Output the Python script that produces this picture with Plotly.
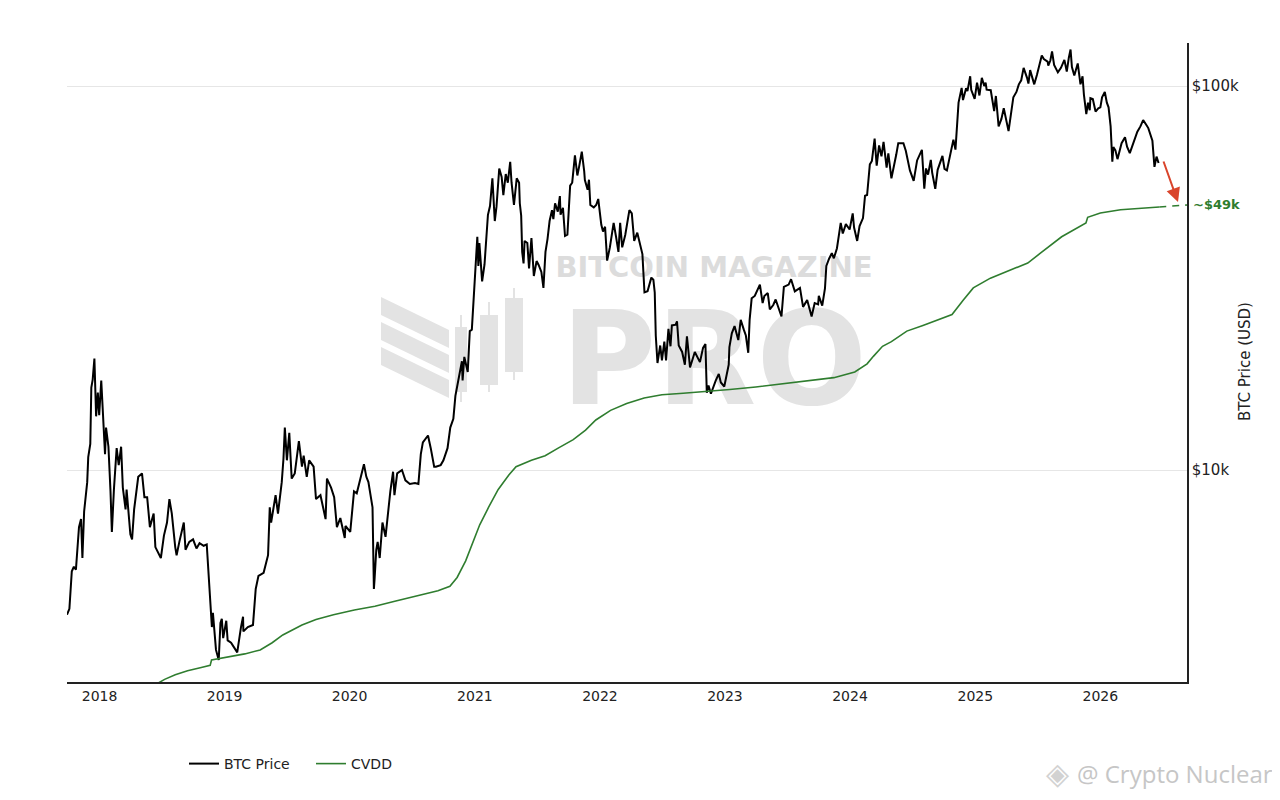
import numpy as np
import plotly.graph_objects as go

# BTC price (USD)
btc_dates = [
    "2017-09-28", "2017-10-05", "2017-10-12", "2017-10-18", "2017-10-24", "2017-11-02", "2017-11-08",
    "2017-11-12", "2017-11-17", "2017-11-26", "2017-11-29", "2017-12-05", "2017-12-08", "2017-12-12",
    "2017-12-17", "2017-12-22", "2017-12-27", "2017-12-31", "2018-01-06", "2018-01-10", "2018-01-17",
    "2018-01-20", "2018-01-27", "2018-02-02", "2018-02-06", "2018-02-12", "2018-02-20", "2018-02-26",
    "2018-03-05", "2018-03-10", "2018-03-18", "2018-03-21", "2018-04-01", "2018-04-06", "2018-04-12",
    "2018-04-24", "2018-05-05", "2018-05-12", "2018-05-20", "2018-05-28", "2018-06-08", "2018-06-13",
    "2018-06-24", "2018-06-29", "2018-07-08", "2018-07-17", "2018-07-24", "2018-07-31", "2018-08-10",
    "2018-08-14", "2018-08-22", "2018-09-04", "2018-09-09", "2018-09-20", "2018-10-01", "2018-10-11",
    "2018-10-20", "2018-11-01", "2018-11-10", "2018-11-14", "2018-11-19", "2018-11-22", "2018-11-25",
    "2018-11-28", "2018-12-07", "2018-12-15", "2018-12-20", "2018-12-24", "2018-12-28", "2019-01-06",
    "2019-01-10", "2019-01-20", "2019-01-28", "2019-02-07", "2019-02-18", "2019-02-24", "2019-02-25",
    "2019-03-10", "2019-03-25", "2019-04-02", "2019-04-10", "2019-04-25", "2019-05-08", "2019-05-13",
    "2019-05-17", "2019-05-30", "2019-06-06", "2019-06-17", "2019-06-22", "2019-06-26", "2019-07-02",
    "2019-07-09", "2019-07-16", "2019-07-25", "2019-08-06", "2019-08-15", "2019-08-20", "2019-08-29",
    "2019-09-05", "2019-09-18", "2019-09-25", "2019-10-08", "2019-10-23", "2019-10-27", "2019-11-08",
    "2019-11-17", "2019-11-25", "2019-12-05", "2019-12-18", "2019-12-20", "2020-01-03", "2020-01-14",
    "2020-01-22", "2020-02-01", "2020-02-12", "2020-02-19", "2020-02-25", "2020-03-08", "2020-03-12",
    "2020-03-14", "2020-03-19", "2020-03-23", "2020-03-29", "2020-04-06", "2020-04-15", "2020-04-29",
    "2020-05-07", "2020-05-11", "2020-05-19", "2020-06-02", "2020-06-12", "2020-06-25", "2020-07-10",
    "2020-07-20", "2020-07-27", "2020-08-02", "2020-08-17", "2020-08-25", "2020-09-04", "2020-09-09",
    "2020-09-23", "2020-10-01", "2020-10-13", "2020-10-21", "2020-10-30", "2020-11-05", "2020-11-18",
    "2020-11-24", "2020-11-26", "2020-12-01", "2020-12-11", "2020-12-17", "2020-12-23", "2020-12-27",
    "2021-01-02", "2021-01-08", "2021-01-11", "2021-01-14", "2021-01-22", "2021-01-29", "2021-02-08",
    "2021-02-14", "2021-02-21", "2021-02-28", "2021-03-05", "2021-03-13", "2021-03-20", "2021-03-25",
    "2021-04-01", "2021-04-07", "2021-04-14", "2021-04-18", "2021-04-25", "2021-05-03", "2021-05-10",
    "2021-05-12", "2021-05-16", "2021-05-19", "2021-05-23", "2021-05-26", "2021-06-03", "2021-06-08",
    "2021-06-15", "2021-06-22", "2021-06-30", "2021-07-06", "2021-07-14", "2021-07-20", "2021-07-26",
    "2021-08-01", "2021-08-07", "2021-08-14", "2021-08-18", "2021-08-23", "2021-08-31", "2021-09-06",
    "2021-09-08", "2021-09-15", "2021-09-21", "2021-09-28", "2021-10-06", "2021-10-12", "2021-10-20",
    "2021-10-27", "2021-11-01", "2021-11-09", "2021-11-16", "2021-11-18", "2021-11-26", "2021-11-30",
    "2021-12-04", "2021-12-14", "2021-12-21", "2021-12-27", "2022-01-05", "2022-01-10", "2022-01-16",
    "2022-01-22", "2022-01-30", "2022-02-10", "2022-02-17", "2022-02-24", "2022-03-01", "2022-03-07",
    "2022-03-16", "2022-03-28", "2022-04-04", "2022-04-11", "2022-04-20", "2022-04-30", "2022-05-05",
    "2022-05-11", "2022-05-20", "2022-05-31", "2022-06-06", "2022-06-10", "2022-06-13", "2022-06-18",
    "2022-06-26", "2022-07-01", "2022-07-08", "2022-07-13", "2022-07-20", "2022-07-26", "2022-07-30",
    "2022-08-10", "2022-08-14", "2022-08-19", "2022-08-29", "2022-09-06", "2022-09-12", "2022-09-21",
    "2022-10-05", "2022-10-20", "2022-10-29", "2022-11-05", "2022-11-09", "2022-11-14", "2022-11-21",
    "2022-12-05", "2022-12-14", "2022-12-20", "2022-12-30", "2023-01-12", "2023-01-14", "2023-01-21",
    "2023-01-29", "2023-02-09", "2023-02-16", "2023-02-25", "2023-03-03", "2023-03-10", "2023-03-14",
    "2023-03-20", "2023-03-29", "2023-04-13", "2023-04-21", "2023-04-26", "2023-05-06", "2023-05-12",
    "2023-05-22", "2023-05-29", "2023-06-10", "2023-06-15", "2023-06-22", "2023-07-06", "2023-07-13",
    "2023-07-24", "2023-08-08", "2023-08-17", "2023-08-29", "2023-09-11", "2023-09-20", "2023-09-30",
    "2023-10-02", "2023-10-12", "2023-10-20", "2023-10-24", "2023-11-01", "2023-11-09", "2023-11-15",
    "2023-11-24", "2023-12-05", "2023-12-11", "2023-12-20", "2023-12-31", "2024-01-09", "2024-01-13",
    "2024-01-22", "2024-01-29", "2024-02-08", "2024-02-14", "2024-02-20", "2024-02-28", "2024-03-05",
    "2024-03-13", "2024-03-19", "2024-03-26", "2024-04-02", "2024-04-08", "2024-04-17", "2024-04-22",
    "2024-05-01", "2024-05-08", "2024-05-15", "2024-05-21", "2024-06-05", "2024-06-12", "2024-06-24",
    "2024-07-05", "2024-07-15", "2024-07-29", "2024-08-05", "2024-08-10", "2024-08-16", "2024-08-24",
    "2024-08-28", "2024-09-06", "2024-09-13", "2024-09-27", "2024-10-03", "2024-10-10", "2024-10-21",
    "2024-10-29", "2024-11-04", "2024-11-11", "2024-11-13", "2024-11-22", "2024-11-26", "2024-12-05",
    "2024-12-09", "2024-12-17", "2024-12-20", "2024-12-30", "2025-01-06", "2025-01-13", "2025-01-20",
    "2025-01-27", "2025-01-31", "2025-02-03", "2025-02-15", "2025-02-25", "2025-03-02", "2025-03-10",
    "2025-03-18", "2025-03-25", "2025-03-31", "2025-04-08", "2025-04-15", "2025-04-22", "2025-05-01",
    "2025-05-08", "2025-05-15", "2025-05-22", "2025-06-01", "2025-06-05", "2025-06-10", "2025-06-17",
    "2025-06-22", "2025-06-30", "2025-07-03", "2025-07-14", "2025-07-20", "2025-07-31", "2025-08-02",
    "2025-08-08", "2025-08-13", "2025-08-19", "2025-08-30", "2025-09-08", "2025-09-18", "2025-09-25",
    "2025-10-01", "2025-10-06", "2025-10-10", "2025-10-17", "2025-10-27", "2025-11-04", "2025-11-10",
    "2025-11-14", "2025-11-21", "2025-11-26", "2025-12-01", "2025-12-03", "2025-12-10", "2025-12-18",
    "2025-12-26", "2026-01-01", "2026-01-06", "2026-01-14", "2026-01-20", "2026-01-25", "2026-01-31",
    "2026-02-05", "2026-02-08", "2026-02-14", "2026-02-20", "2026-03-04", "2026-03-14", "2026-03-20",
    "2026-03-28", "2026-04-08", "2026-04-19", "2026-04-28", "2026-05-06", "2026-05-14", "2026-05-21",
    "2026-06-02", "2026-06-08", "2026-06-14", "2026-06-20",
]
btc_price = [
    4200, 4350, 5450, 5600, 5500, 7100, 7450,
    5900, 7800, 9300, 10800, 11700, 16400, 17200,
    19500, 13800, 15900, 13900, 17100, 14600, 11000,
    12900, 11500, 8800, 6900, 8900, 11400, 10300,
    11500, 9000, 7900, 8900, 6800, 6600, 7900,
    9600, 9800, 8500, 8500, 7100, 7700, 6300,
    6000, 5900, 6750, 7300, 8400, 7700, 6300,
    6000, 6500, 7300, 6200, 6500, 6600, 6250,
    6450, 6350, 6400, 5700, 4700, 4400, 3900,
    4250, 3400, 3200, 4000, 4100, 3650, 4050,
    3600, 3550, 3450, 3350, 3900, 4150, 3800,
    3900, 3950, 4900, 5300, 5400, 6000, 8000,
    7300, 8600, 7700, 9300, 10700, 12900, 10600,
    12500, 9500, 9800, 11900, 10200, 10900, 9600,
    10600, 10200, 8400, 8600, 7450, 9500, 9000,
    8500, 7100, 7500, 6650, 7150, 6900, 8800,
    8700, 9400, 10350, 9600, 9300, 8000, 4900,
    5200, 6200, 6500, 5900, 7300, 6700, 8800,
    9900, 8600, 9800, 10000, 9400, 9200, 9250,
    9200, 11000, 11800, 12300, 11400, 10200, 10200,
    10300, 10600, 11400, 12900, 13600, 15600, 18000,
    19200, 17100, 19700, 18000, 23000, 23200, 26500,
    32000, 40500, 34000, 39000, 31000, 34300, 46200,
    48700, 57500, 44500, 48500, 61000, 58000, 52000,
    59000, 56000, 63500, 56000, 49000, 57500, 56000,
    49500, 46000, 37000, 34500, 39500, 39000, 33500,
    40200, 32000, 35000, 34200, 32800, 29800, 37000,
    40000, 44500, 47500, 45000, 49500, 47100, 51700,
    46200, 48200, 40700, 41000, 55000, 56000, 66000,
    58500, 61500, 67500, 60000, 56900, 53700, 57000,
    49000, 48300, 49000, 50800, 43500, 41800, 43000,
    35100, 38000, 44000, 40500, 37000, 44000, 38000,
    41000, 47500, 46600, 39500, 41500, 37700, 36500,
    29000, 29200, 31700, 31300, 29000, 22400, 19000,
    21100, 19300, 21600, 19300, 23300, 21000, 23800,
    23900, 24400, 21100, 20300, 18800, 22300, 18500,
    20300, 19100, 20800, 21300, 15900, 16600, 15800,
    17100, 17800, 16900, 16500, 18800, 20900, 22700,
    23700, 21800, 24600, 23200, 22400, 20200, 24600,
    28000, 28400, 30400, 27200, 28400, 28900, 26200,
    26900, 27800, 25800, 25100, 30000, 30400, 31400,
    29200, 29800, 26600, 27700, 25100, 27200, 27000,
    28400, 26800, 29700, 34000, 35500, 36700, 35600,
    37800, 44000, 41300, 43700, 42300, 46600, 42800,
    39500, 43200, 45300, 51800, 52000, 62500, 63800,
    73000, 62000, 70000, 65600, 71500, 61300, 66800,
    57500, 61200, 66200, 71000, 71000, 67800, 60300,
    56600, 64000, 68200, 54000, 61000, 58800, 64200,
    59500, 54000, 60500, 65800, 60800, 60300, 67400,
    72500, 68300, 88700, 90500, 98900, 91900, 98700,
    97000, 106000, 97700, 92600, 102000, 94500, 105000,
    100000, 102000, 97800, 97500, 86000, 94200, 78500,
    82000, 87500, 82500, 76300, 84500, 93500, 96500,
    101000, 103500, 111500, 105000, 101500, 110000, 104500,
    101000, 107000, 109500, 120000, 117500, 115800, 113000,
    116500, 123000, 113500, 108500, 111500, 117000, 109000,
    118500, 124500, 112000, 106500, 114500, 101000, 106000,
    95000, 84500, 90500, 86500, 93000, 92500, 85800,
    87500, 88000, 93500, 96500, 90500, 88000, 78500,
    63500, 69300, 68000, 64500, 71000, 73600, 69500,
    66900, 71500, 76000, 78500, 81500, 79500, 77700,
    72000, 61600, 65500, 63000,
]

# CVDD (USD)
cvdd_dates = [
    "2018-05-25", "2018-07-10", "2018-08-10", "2018-09-15", "2018-10-25", "2018-11-20", "2018-11-24",
    "2019-01-15", "2019-03-01", "2019-04-15", "2019-05-20", "2019-06-20", "2019-07-20", "2019-08-15",
    "2019-09-25", "2019-11-15", "2020-01-15", "2020-03-15", "2020-05-15", "2020-07-15", "2020-09-15",
    "2020-10-20", "2020-11-10", "2020-12-05", "2020-12-25", "2021-01-15", "2021-02-10", "2021-03-10",
    "2021-04-10", "2021-05-01", "2021-06-15", "2021-07-25", "2021-09-01", "2021-10-15", "2021-11-20",
    "2021-12-20", "2022-02-01", "2022-03-20", "2022-05-10", "2022-07-01", "2022-09-01", "2022-11-10",
    "2023-01-15", "2023-04-01", "2023-07-01", "2023-09-15", "2023-11-15", "2024-01-15", "2024-02-20",
    "2024-03-10", "2024-04-05", "2024-05-01", "2024-06-15", "2024-08-01", "2024-09-15", "2024-10-25",
    "2024-11-27", "2024-12-26", "2025-02-14", "2025-06-03", "2025-07-10", "2025-08-17", "2025-09-10",
    "2025-11-20", "2025-11-25", "2026-01-01", "2026-03-01", "2026-06-22",
]
cvdd_price = [
    2700, 2850, 2930, 3000, 3060, 3100, 3200,
    3260, 3320, 3400, 3550, 3720, 3850, 3950,
    4080, 4200, 4320, 4420, 4560, 4700, 4850,
    4980, 5250, 5800, 6450, 7200, 8000, 8900,
    9700, 10200, 10600, 10900, 11400, 12000, 12700,
    13500, 14300, 14900, 15400, 15700, 15850, 16000,
    16200, 16450, 16800, 17100, 17400, 18000, 18900,
    19800, 21000, 21600, 23000, 23800, 24600, 25400,
    27700, 29800, 31600, 34600, 36700, 39000, 40500,
    44000, 45500, 46700, 47600, 48400,
]

# dashed CVDD projection to the target level
cvdd_target = 49000
cvdd_proj_dates = ["2026-06-22", "2026-09-11"]
cvdd_proj_price = [48400, cvdd_target]

year_ticks = ["2018", "2019", "2020", "2021", "2022", "2023", "2024", "2025", "2026"]
price_ticks = [10000, 100000]
price_labels = ["$10k", "$100k"]

GREEN = "#2f7d2f"
FONT = "DejaVu Sans"

# the page body adds an 8px margin, so the figure is a bit smaller than the window
W, H, OFF = 1272, 792, 8
# plot box in screenshot pixels (used for the decorations)
L, R, T, B = 67, 1187, 43, 682


def px(x):
    return (x - L) / (R - L)


def py(y):
    return (B - y) / (B - T)


fig = go.Figure()
fig.add_trace(go.Scatter(x=btc_dates, y=btc_price, mode="lines", name="BTC Price",
                         line=dict(color="#000000", width=2)))
fig.add_trace(go.Scatter(x=cvdd_dates, y=cvdd_price, mode="lines", name="CVDD",
                         line=dict(color=GREEN, width=1.6)))
fig.add_trace(go.Scatter(x=cvdd_proj_dates, y=cvdd_proj_price, mode="lines", showlegend=False,
                         line=dict(color=GREEN, width=1.6, dash="7px,6px")))

# watermark (behind the lines)
wm = "#e3e3e3"
shapes = []
for i in range(3):
    d = 25 * i
    path = "M {} {} L {} {} L {} {} L {} {} Z".format(
        px(381), py(297 + d), px(449), py(330 + d), px(449), py(348 + d), px(381), py(315 + d))
    shapes.append(dict(type="path", path=path, xref="paper", yref="paper", layer="below",
                       fillcolor=wm, line=dict(width=0)))
# candles: body x0, x1, y0, y1, wick top, wick bottom
for x0, x1, y0, y1, w0, w1 in [(455, 467, 327, 392, 315, 402),
                               (480, 498, 315, 385, 302, 392),
                               (505, 523, 298, 372, 288, 380)]:
    shapes.append(dict(type="rect", xref="paper", yref="paper", layer="below",
                       x0=px(x0), x1=px(x1), y0=py(y1), y1=py(y0), fillcolor=wm, line=dict(width=0)))
    xm = px((x0 + x1) / 2)
    shapes.append(dict(type="line", xref="paper", yref="paper", layer="below",
                       x0=xm, x1=xm, y0=py(w1), y1=py(w0), line=dict(color=wm, width=2)))
# watermark words, kept far enough apart that their text boxes do not touch
shapes.append(dict(type="rect", xref="paper", yref="paper", layer="below",
                   x0=px(548), x1=px(880), y0=py(280), y1=py(249), line=dict(width=0),
                   label=dict(text="<b>BITCOIN MAGAZINE</b>", textposition="middle center",
                              font=dict(family=FONT, size=29, color="#dcdcdc"))))
shapes.append(dict(type="rect", xref="paper", yref="paper", layer="below",
                   x0=px(548), x1=px(880), y0=py(405), y1=py(294), line=dict(width=0),
                   label=dict(text="<b>PRO</b>", textposition="middle center",
                              font=dict(family=FONT, size=130, color=wm))))

annotations = [
    dict(text="<b>~$49k</b>", xref="paper", yref="y", x=1.004, y=np.log10(cvdd_target),
         xanchor="left", yanchor="middle", showarrow=False,
         font=dict(family=FONT, size=13, color=GREEN)),
    dict(text="", xref="paper", yref="paper", x=px(1178), y=py(202), ax=-15, ay=-42,
         showarrow=True, arrowhead=2, arrowsize=1.4, arrowwidth=2, arrowcolor="#d9442b"),
    dict(text="BTC Price (USD)", xref="paper", yref="paper", x=px(1245), y=py(362),
         textangle=-90, xanchor="center", yanchor="middle", showarrow=False,
         font=dict(family=FONT, size=15, color="#222222")),
    dict(text="◈", xref="paper", yref="paper", x=px(1057), y=py(773), xanchor="center",
         yanchor="middle", showarrow=False, font=dict(family=FONT, size=30, color="#d2d2d2")),
    dict(text="@ Crypto Nuclear", xref="paper", yref="paper", x=px(1275), y=py(773),
         xanchor="right", yanchor="middle", showarrow=False,
         font=dict(family="Open Sans", size=24, color="#c6c6c6")),
]

fig.update_layout(
    width=W, height=H,
    margin=dict(l=L - OFF, r=W - (R - OFF), t=T - OFF, b=H - (B - OFF)),
    paper_bgcolor="white", plot_bgcolor="white",
    font=dict(family=FONT, size=14, color="#222222"),
    showlegend=True,
    legend=dict(orientation="h", x=px(184), y=py(764), xanchor="left", yanchor="middle",
                font=dict(size=14, color="#222222"), itemwidth=30,
                entrywidth=82, entrywidthmode="pixels"),
    shapes=shapes,
    annotations=annotations,
)
fig.update_xaxes(
    type="date", range=["2017-09-28", "2026-09-11"],
    tickvals=[y + "-01-01" for y in year_ticks], ticktext=year_ticks,
    showgrid=False, zeroline=False, showline=True, linecolor="#222222", linewidth=1.5,
    ticks="", tickfont=dict(size=14, color="#222222"),
)
fig.update_yaxes(
    type="log", side="right", range=[3.448, 5.112],
    tickvals=price_ticks, ticktext=price_labels,
    showgrid=True, gridcolor="#e6e6e6", gridwidth=1, zeroline=False,
    showline=True, linecolor="#222222", linewidth=1.5, ticks="",
    tickfont=dict(size=15, color="#222222"),
)

fig.write_html("out.html")
